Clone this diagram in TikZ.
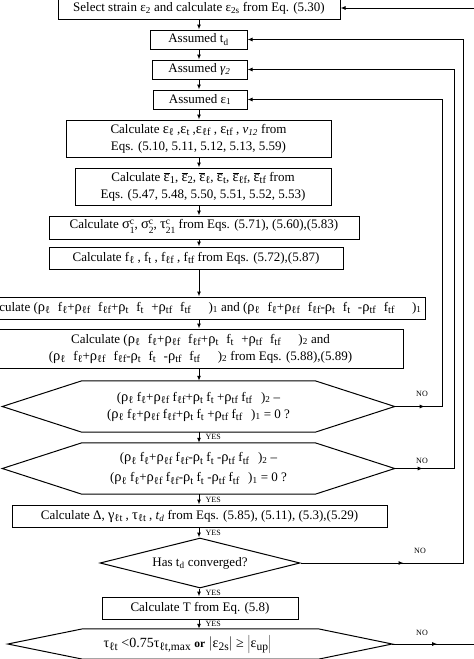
\documentclass[tikz,border=0pt]{standalone}
\usepackage{fontspec}
\setmainfont{Liberation Serif}
\usetikzlibrary{arrows.meta,shapes.geometric}
\newlength{\sgap}
\setlength{\sgap}{3.4pt}
\newcommand{\lo}[1]{\raisebox{-0.45ex}{\fontsize{10.5}{10}\selectfont #1}}
\newcommand{\gk}[1]{{\fontsize{14.5}{14}\selectfont #1}}
\newcommand{\rf}[1]{\gk{ρ}\lo{#1}\hspace{\sgap}f\lo{#1}}
\newcommand{\eb}[1]{$\overline{\mbox{\gk{ε}}}$\lo{#1}}
\newcommand{\cs}[2]{\raisebox{-0.2ex}{\fontsize{9.5}{8.5}\selectfont\begin{tabular}[c]{@{}l@{}}#1\\#2\end{tabular}}}
\newcommand{\sumplus}{\rf{ℓ}+\rf{ℓf}+\rf{t}\hspace{\sgap}+\rf{tf}\hspace{2\sgap}\hspace{2pt}}
\newcommand{\summinus}{\rf{ℓ}+\rf{ℓf}-\rf{t}\hspace{\sgap}-\rf{tf}\hspace{2\sgap}\hspace{2pt}}

\begin{document}
\begin{tikzpicture}[x=1pt,y=1pt,yscale=-1,
	box/.style={draw,line width=1pt,inner sep=1pt,align=center,font=\fontsize{13}{17}\selectfont},
	txt/.style={inner sep=1pt,align=center,font=\fontsize{13}{17}\selectfont},
	wide/.style={font=\fontsize{13}{17}\selectfont\setlength{\sgap}{7.8pt}},
	edge/.style={line width=1pt},
	arr/.style={line width=1pt,-{Latex[length=5pt,width=4pt]}},
	lab/.style={inner sep=0.5pt,font=\fontsize{8}{9}\selectfont}]
	\useasboundingbox (0,0) rectangle (474,659);
	\clip (0,0) rectangle (474,659);
	\node[box,minimum width=282pt,minimum height=22pt] (sel) at (199,8) {Select strain ε\textsubscript{2} and calculate ε\textsubscript{2s} from Eq. (5.30)};
	\node[box,minimum width=97pt,minimum height=19pt] (td) at (198.5,39.5) {Assumed t\textsubscript{d}};
	\node[box,minimum width=95pt,minimum height=19pt] (gam) at (199.5,69.5) {Assumed \textit{γ}\textsubscript{\textit{2}}};
	\node[box,minimum width=94pt,minimum height=19pt] (eps) at (200,99.5) {Assumed ε\textsubscript{1}};
	\node[box,minimum width=265pt,minimum height=37pt] (strn) at (198.5,138.5) {Calculate \gk{ε}\lo{ℓ} ,\gk{ε}\lo{t} ,\gk{ε}\lo{ℓf} , \gk{ε}\lo{tf} , \textit{ν}\textsubscript{\textit{12}} from\\Eqs. (5.10, 5.11, 5.12, 5.13, 5.59)};
	\node[box,minimum width=256pt,minimum height=37pt] (avg) at (203,186.5) {Calculate \eb{1}, \eb{2}, \eb{ℓ}, \eb{t}, \eb{ℓf}, \eb{tf} from\\Eqs. (5.47, 5.48, 5.50, 5.51, 5.52, 5.53)};
	\node[box,minimum width=310pt,minimum height=23pt] (sig) at (204,227.5) {Calculate \gk{σ}\cs{c}{1}, \gk{σ}\cs{c}{2}, \gk{τ}\cs{c}{21} from Eqs. (5.71), (5.60),(5.83)};
	\node[box,minimum width=294pt,minimum height=22pt] (frc) at (196,258) {Calculate f\lo{ℓ} , f\lo{t} , f\lo{ℓf} , f\lo{tf} from Eqs. (5.72),(5.87)};
	\node[box,wide,inner xsep=4pt,minimum height=22pt,anchor=east] (sum1) at (426,308) {Calculate (\sumplus )\textsubscript{1} and (\summinus )\textsubscript{1}};
	\node[box,wide,minimum width=405pt,minimum height=39pt] (sum2) at (200.5,348.5) {Calculate (\sumplus )\textsubscript{2} and\\(\summinus )\textsubscript{2} from Eqs. (5.88),(5.89)};
	\node[txt,minimum width=233pt,minimum height=51pt] (chk1) at (198.5,406.5) {(\sumplus )\textsubscript{2} –\\(\sumplus )\textsubscript{1} = 0 ?};
	\node[txt,minimum width=233pt,minimum height=51pt] (chk2) at (198.5,468.5) {(\summinus )\textsubscript{2} –\\[3pt](\summinus )\textsubscript{1} = 0 ?};
	\node[box,minimum width=375pt,minimum height=22pt] (dlt) at (199.5,516) {Calculate Δ, \gk{γ}\lo{ℓt} , \gk{τ}\lo{ℓt} , \textit{t\textsubscript{d}} from Eqs. (5.85), (5.11), (5.3),(5.29)};
	\node[txt,draw,line width=1pt,diamond,aspect=4,inner sep=0pt,minimum width=200pt,minimum height=50pt] (conv) at (200,563) {Has t\textsubscript{d} converged?};
	\node[box,minimum width=196pt,minimum height=22pt] (tor) at (200,608) {Calculate T from Eq. (5.8)};
	\node[inner sep=1pt,minimum width=235pt,minimum height=30pt,font=\fontsize{14}{17}\selectfont] (stop) at (200.5,644) {\hspace*{-26pt}τ\lo{\fontsize{11.5}{12}\selectfont ℓt} <0.75τ\lo{\fontsize{11.5}{12}\selectfont ℓt,max} {\fontsize{11.5}{13}\selectfont\textbf{or}} $\left|\mbox{ε\lo{\fontsize{11.5}{12}\selectfont 2s}}\right|$ ≥ $\left|\mbox{ε\lo{\fontsize{11.5}{12}\selectfont up}}\right|$};
	\draw[edge] (chk1.north west) -- (chk1.north east) -- ([xshift=79.5pt]chk1.east) coordinate (chk1r) -- (chk1.south east) -- (chk1.south west) -- ([xshift=-79.5pt]chk1.west) -- cycle;
	\draw[edge] (chk2.north west) -- (chk2.north east) -- ([xshift=79.5pt]chk2.east) coordinate (chk2r) -- (chk2.south east) -- (chk2.south west) -- ([xshift=-79.5pt]chk2.west) -- cycle;
	\draw[edge] (stop.north west) -- (stop.north east) -- ([xshift=74pt]stop.east) coordinate (stopr) -- (stop.south east) -- (stop.south west) -- ([xshift=-75pt]stop.west) -- cycle;
	\coordinate (ax) at (199,0);
	\coordinate (r1) at (442,0);
	\coordinate (r2) at (454,0);
	\coordinate (r3) at (463,0);
	\coordinate (rt) at (474,8);
	\draw[arr] (sel.south -| ax) -- (td.north -| ax);
	\draw[arr] (td.south -| ax) -- (gam.north -| ax);
	\draw[arr] (gam.south -| ax) -- (eps.north -| ax);
	\draw[arr] (eps.south -| ax) -- (strn.north -| ax);
	\draw[arr] (strn.south -| ax) -- (avg.north -| ax);
	\draw[arr] (avg.south -| ax) -- (sig.north -| ax);
	\draw[arr] (sig.south -| ax) -- (frc.north -| ax);
	\draw[arr] (frc.south -| ax) -- (sum1.north -| ax);
	\draw[arr] (sum1.south -| ax) -- (sum2.north -| ax);
	\draw[arr] (sum2.south -| ax) -- (chk1.north -| ax);
	\draw[arr] (chk1.south -| ax) -- (chk2.north -| ax);
	\draw[arr] (chk2.south -| ax) -- (dlt.north -| ax);
	\draw[arr] (dlt.south -| ax) -- (conv.north -| ax);
	\draw[arr] (conv.south -| ax) -- (tor.north -| ax);
	\draw[arr] (tor.south -| ax) -- (stop.north -| ax);
	\draw[arr] (chk1r) -- (chk1r -| r1) |- (eps.east);
	\draw[arr] (chk1r) -- ([xshift=30pt]chk1r);
	\draw[arr] (chk2r) -- (chk2r -| r2) |- (gam.east);
	\draw[arr] (chk2r) -- ([xshift=28pt]chk2r);
	\draw[arr] (conv.east) -- (conv.east -| r3) |- (td.east);
	\draw[arr] (conv.east) -- ([xshift=103pt]conv.east);
	\draw[arr] (rt) -- (sel.east);
	\draw[edge] (stopr) -- (stopr -| rt);
	\draw[arr] (stopr) -- ([xshift=45pt]stopr);
	\node[lab] (no1) at (422,394) {NO};
	\node[lab] (no2) at (422,461) {NO};
	\node[lab] (no3) at (420,551) {NO};
	\node[lab] (no4) at (422,633) {NO};
	\node[lab,anchor=west] (yes1) at (205,437) {YES};
	\node[lab,anchor=west] (yes2) at (205,500) {YES};
	\node[lab,anchor=west] (yes3) at (205,533) {YES};
	\node[lab,anchor=west] (yes4) at (205,593) {YES};
	\node[lab,anchor=west] (yes5) at (205,624) {YES};
\end{tikzpicture}
\end{document}
